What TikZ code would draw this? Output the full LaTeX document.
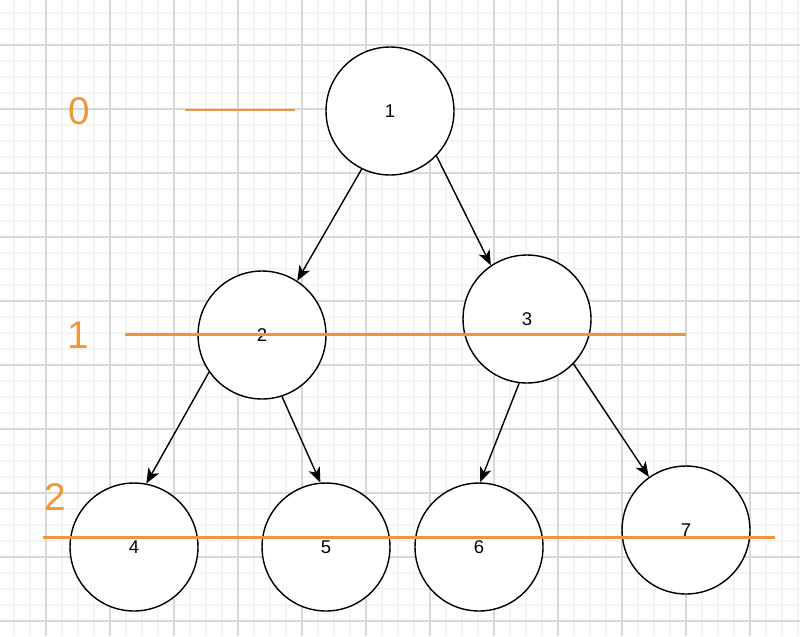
\documentclass[tikz,border=0pt]{standalone}
\usepackage{fontspec}
\setmainfont{Liberation Sans}
\usetikzlibrary{arrows.meta}

\definecolor{lvlorange}{RGB}{240,150,58}
\definecolor{minorgray}{RGB}{244,244,244}
\definecolor{majorgray}{RGB}{216,216,216}

\begin{document}
\begin{tikzpicture}[
    x=0.02cm, y=-0.02cm,
    vertex/.style={circle, draw=black, line width=0.8pt, fill=white, minimum size=2.56cm, inner sep=0pt, font=\fontsize{10.5}{12}\selectfont},
    tree edge/.style={line width=0.8pt, -{Stealth[length=0.3cm, width=0.24cm, inset=0.08cm]}},
    level line/.style={line width=1.7pt, lvlorange},
    level label/.style={lvlorange, font=\fontsize{22}{26}\selectfont, inner sep=0pt},
    minor grid/.style={minorgray, line width=0.7pt},
    major grid/.style={majorgray, line width=0.6pt}
]

\useasboundingbox (0,0) rectangle (800,636);
\fill[white] (0,0) rectangle (800,636);

% Background grid
\foreach \gx in {14,30,...,798} \draw[minor grid] (\gx,0) -- (\gx,636);
\foreach \gy in {13,29,...,636} \draw[minor grid] (0,\gy) -- (800,\gy);
\foreach \gx in {46,110,...,798} \draw[major grid] (\gx,0) -- (\gx,636);
\foreach \gy in {45,109,...,636} \draw[major grid] (0,\gy) -- (800,\gy);

% Level 0
\node[vertex] (n1) at (390,111) {1};

% Level 1
\node[vertex] (n2) at (262,335) {2};
\node[vertex] (n3) at (527,319) {3};

% Level 2
\node[vertex] (n4) at (134,547) {4};
\node[vertex] (n5) at (326,547) {5};
\node[vertex] (n6) at (479,547) {6};
\node[vertex] (n7) at (686,530) {7};

% Tree edges
\draw[tree edge] (n1.244) -- (n2.57);
\draw[tree edge] (n1.316) -- (n3.124);
\draw[tree edge] (n2.215) -- (n4.79);
\draw[tree edge] (n2.288) -- (n5.95);
\draw[tree edge] (n3.263) -- (n6.89);
\draw[tree edge] (n3.316) -- (n7.125);

% Level markers
\coordinate (l0a) at (185,110);
\coordinate (l0b) at (295,110);
\coordinate (l1a) at (125,334);
\coordinate (l1b) at (686,334);
\coordinate (l2a) at (43,537);
\coordinate (l2b) at (775,537);
\draw[level line] (l0a) -- (l0b);
\draw[level line] (l1a) -- (l1b);
\draw[level line] (l2a) -- (l2b);

\node[level label] (d0) at (79,111) {0};
\node[level label] (d1) at (78,335) {1};
\node[level label] (d2) at (55,497) {2};

\end{tikzpicture}
\end{document}
